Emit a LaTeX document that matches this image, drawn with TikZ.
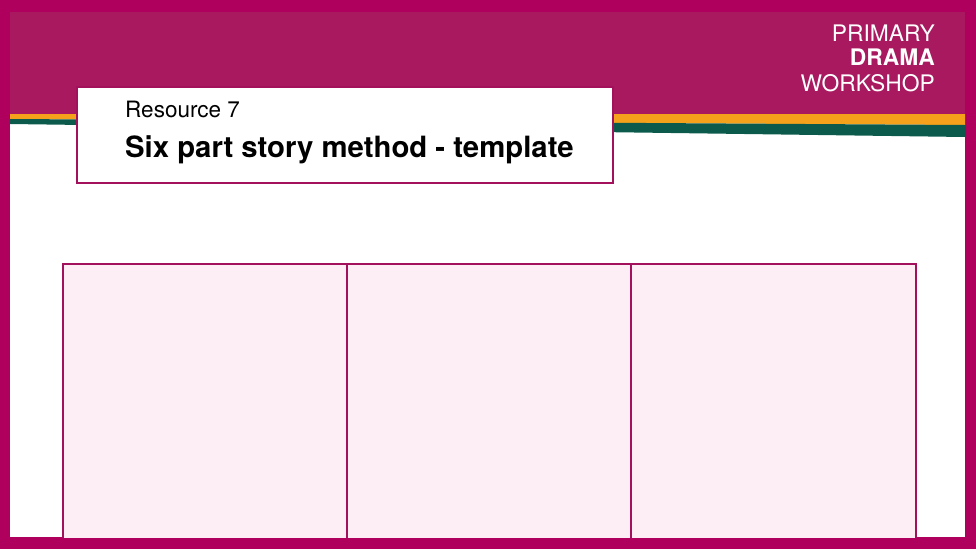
\documentclass[tikz,border=0pt]{standalone}
\usepackage{fontspec}
\setmainfont{TeX Gyre Heros}
\definecolor{outer}{HTML}{B0005E}
\definecolor{banner}{HTML}{A8195F}
\definecolor{stripeor}{HTML}{F5A11C}
\definecolor{stripeteal}{HTML}{0B5A4B}
\definecolor{cellfill}{HTML}{FDEEF5}
\definecolor{celldraw}{HTML}{A3115C}
\tikzset{
  cell/.style={fill=cellfill, draw=celldraw, line width=2.4pt},
  logo/.style={text=white, font=\fontsize{22.8}{24}\selectfont, inner sep=0pt},
}
\begin{document}
\begin{tikzpicture}[x=1pt,y=-1pt]
\useasboundingbox (0,0) rectangle (976,549);
\fill[outer] (0,0) rectangle (976,549);
\fill[white] (10,114) rectangle (965,537);
\fill[banner] (10,12) rectangle (965,114);
\fill[stripeor] (10,114) -- (965,114) -- (965,125) -- (10,119) -- cycle;
\fill[stripeteal] (10,119) -- (965,125) -- (965,137) -- (10,124) -- cycle;
% cells
\begin{scope}
\clip (10,12) rectangle (965,537);
\draw[cell] (63,264) rectangle (347,560);
\draw[cell] (347,264) rectangle (631,560);
\draw[cell] (631,264) rectangle (916,560);
\end{scope}
% title box
\draw[fill=white, draw=celldraw, line width=1.8pt] (77,87) rectangle (613,183);
\node[anchor=base west, inner sep=0pt, font=\fontsize{22.5}{24}\selectfont] (res) at (125,117) {Resource 7};
\node[anchor=base west, inner sep=0pt, font=\bfseries\fontsize{29.3}{32}\selectfont] (title) at (125,157) {Six part story method - template};
% logo
\node[logo, anchor=base east] (l1) at (935,41) {PRIMARY};
\node[logo, anchor=base east, font=\bfseries\fontsize{22.8}{24}\selectfont] (l2) at (935,65) {DRAMA};
\node[logo, anchor=base east] (l3) at (935,91) {WORKSHOP};
\end{tikzpicture}
\end{document}
